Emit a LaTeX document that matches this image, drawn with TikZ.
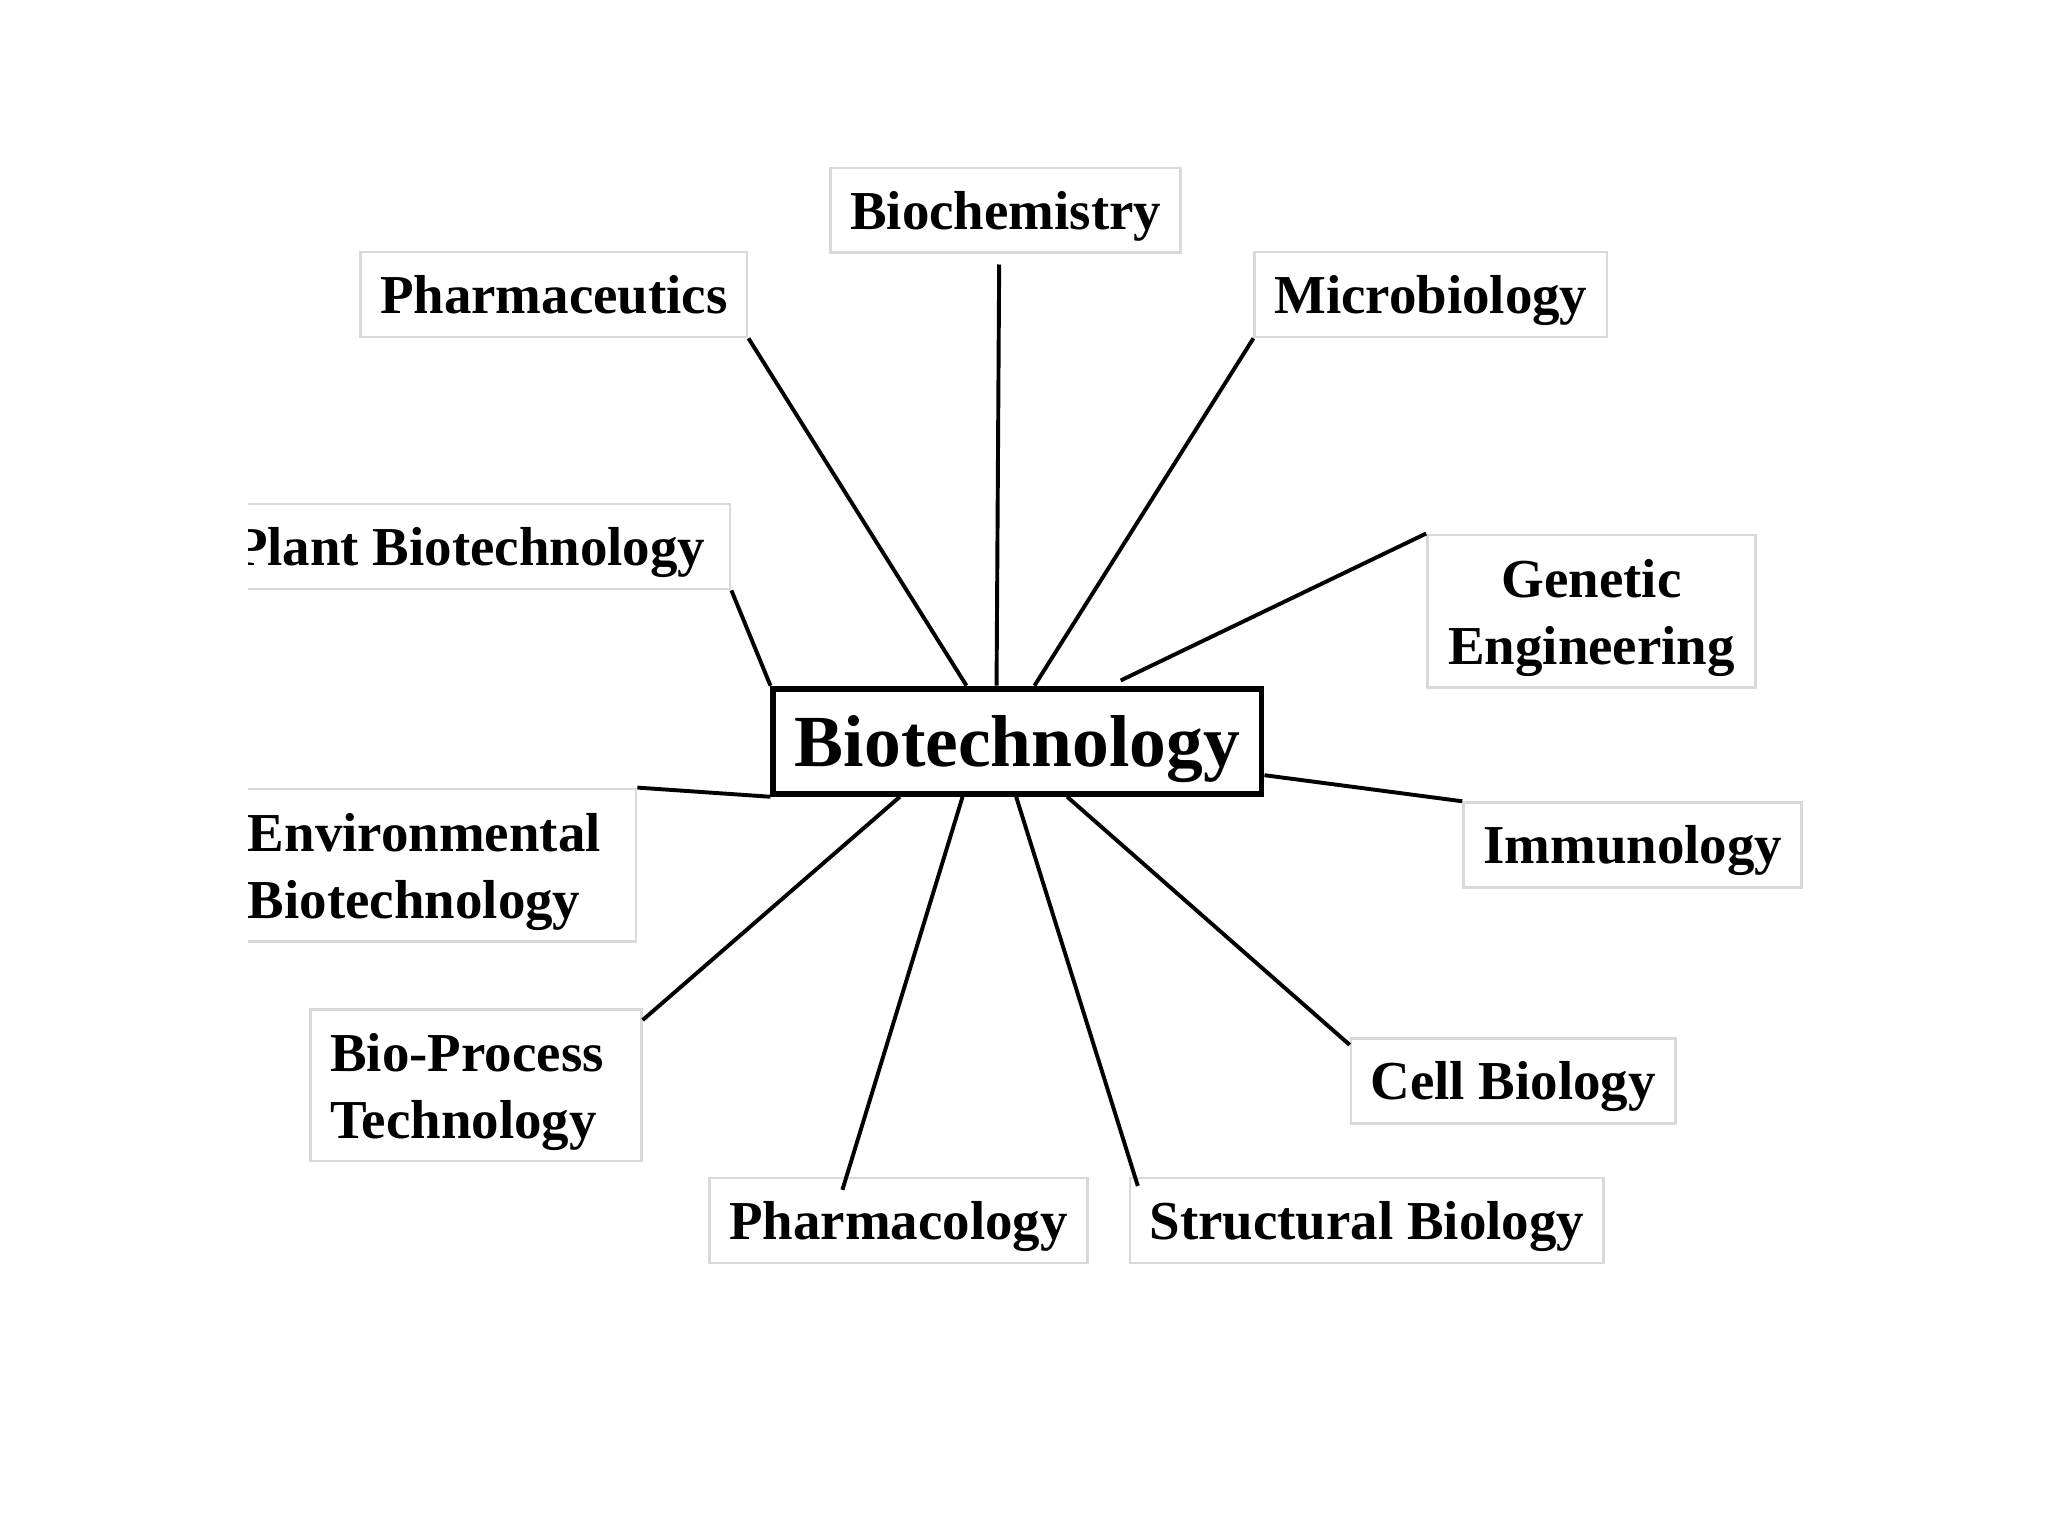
\documentclass[tikz,border=0pt]{standalone}
\usepackage{fontspec}
\setmainfont{Liberation Serif}
\usepackage{tikz}
\tikzset{font=\small}
\tikzset{field/.style={draw=black!15, line width=0.02cm, inner xsep=0.15cm, inner ysep=0.075cm,
    text height=11.23pt, text depth=2.99pt, font=\fontsize{11.95}{14.6}\selectfont\bfseries}}
\tikzset{fieldtwo/.style={draw=black!15, line width=0.02cm, inner xsep=0.15cm, inner ysep=0cm,
    minimum height=1.17cm, font=\fontsize{11.95}{14.6}\selectfont\bfseries,
    execute at begin node={\rule{0pt}{11.23pt}}}}
\tikzset{hub/.style={draw=black, line width=0.045cm, inner sep=0pt, minimum width=3.735cm,
    minimum height=0.805cm, text height=15.04pt, text depth=4pt, font=\fontsize{16}{19}\selectfont\bfseries}}
\tikzset{spoke/.style={black, line width=0.03cm}}

\begin{document}
\begin{tikzpicture}[x=0.01cm,y=-0.01cm]
  \path[use as bounding box, fill=white] (0,0) rectangle (1568,1176);
  \begin{scope}
  \clip (190,0) rectangle (1568,1176);

  \node[hub] (biotech) at (779,567.5) {Biotechnology};

  \node[field] (bioch) at (770,161) {Biochemistry};
  \node[field] (pharmaceutics) at (424,225.5) {Pharmaceutics};
  \node[field] (micro) at (1095.5,225.5) {Microbiology};
  \node[field, anchor=east, inner xsep=0.19cm] (plant) at (560,418.5) {Plant Biotechnology};
  \node[fieldtwo, text width=2.21cm, align=center] (genetic) at (1218.5,468) {Genetic\\Engineering};
  \node[field] (immuno) at (1250,647) {Immunology};
  \node[fieldtwo, text width=2.82cm, align=left, anchor=north east] (env) at (488,603) {Environmental\\Biotechnology};
  \node[fieldtwo, text width=2.23cm, align=left, minimum height=1.16cm] (bioproc) at (364.5,831) {Bio-Process\\Technology};
  \node[field] (cell) at (1158.5,827.5) {Cell Biology};
  \node[field] (pharmacology) at (688,934.5) {Pharmacology};
  \node[field] (structural) at (1046.5,934.5) {Structural Biology};

  \draw[spoke] (pharmaceutics.south east) -- ([xshift=-0.39cm]biotech.north);
  \draw[spoke] ([xshift=-0.05cm,yshift=-0.08cm]bioch.south) -- ([xshift=-0.16cm]biotech.north);
  \draw[spoke] (micro.south west) -- ([xshift=0.13cm]biotech.north);
  \draw[spoke] (genetic.north west) -- ([xshift=0.79cm,yshift=0.04cm]biotech.north);
  \draw[spoke] (plant.south east) -- (biotech.north west);
  \draw[spoke] (env.north east) -- (biotech.south west);
  \draw[spoke] (immuno.north west) -- ([yshift=-0.26cm]biotech.east);
  \draw[spoke] ([yshift=-0.09cm]bioproc.north east) -- ([xshift=-0.9cm]biotech.south);
  \draw[spoke] ([xshift=-0.43cm,yshift=-0.1cm]pharmacology.north) -- ([xshift=-0.42cm]biotech.south);
  \draw[spoke] ([xshift=0.07cm,yshift=-0.07cm]structural.north west) -- ([xshift=-0.01cm]biotech.south);
  \draw[spoke] ([yshift=-0.06cm]cell.north west) -- ([xshift=0.38cm]biotech.south);
  \end{scope}
\end{tikzpicture}
\end{document}
